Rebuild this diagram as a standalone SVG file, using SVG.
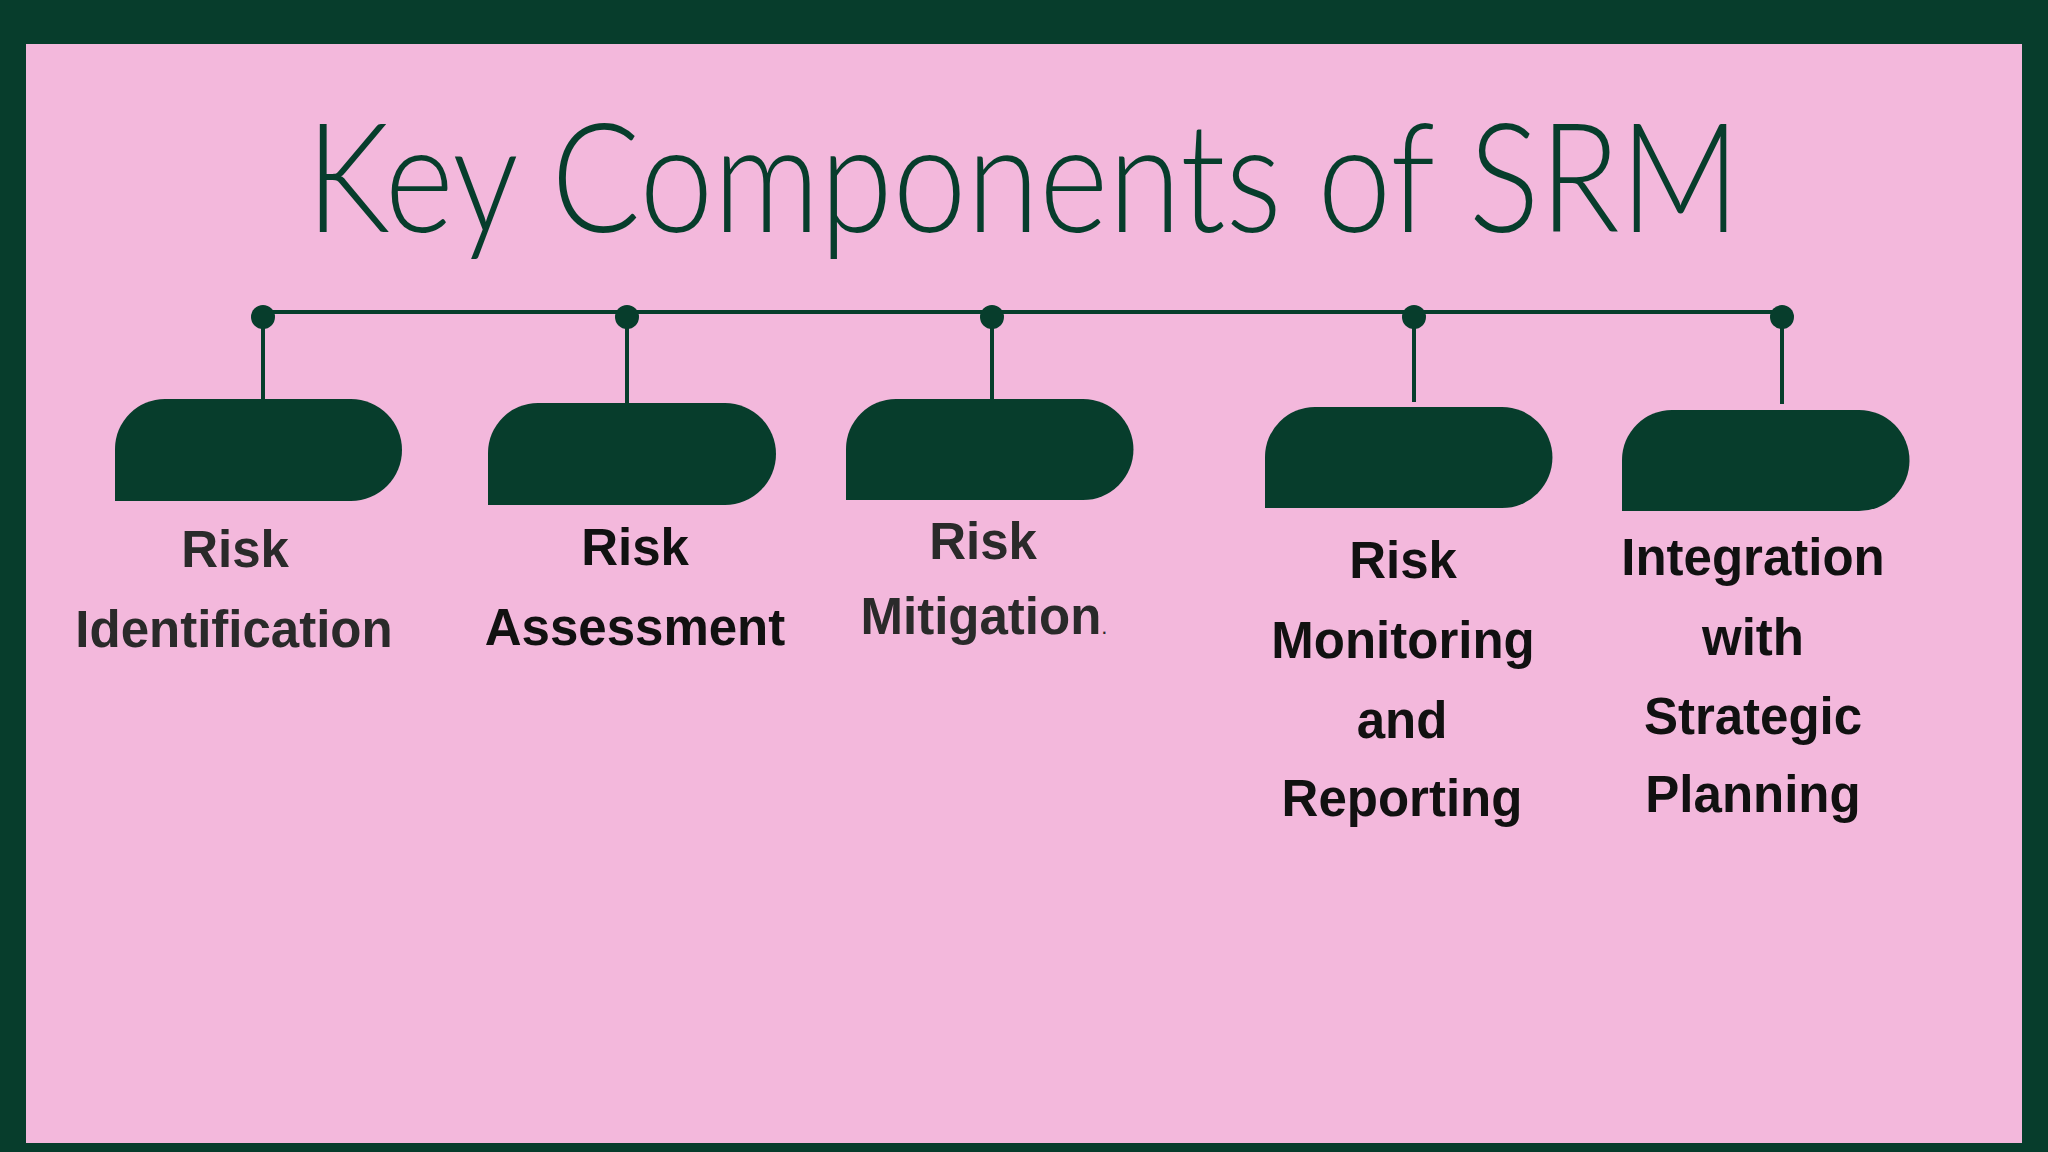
<svg xmlns="http://www.w3.org/2000/svg" width="2048" height="1152" viewBox="0 0 2048 1152">
<style>
.frame{fill:#073d2c}
.bg{fill:#f3b8dc}
.title{font-family:Lato,"Open Sans","DejaVu Sans",sans-serif;font-weight:300;font-size:152px;fill:#073d2c}
.pill{fill:#073d2c}
.lbl{font-family:"Liberation Sans",Arial,sans-serif;font-weight:bold;font-size:51px;text-anchor:middle;fill:#111}
.lbl.gray{fill:#2a2a2a}
.conn line{stroke:#073d2c;stroke-width:4}
.conn circle{fill:#073d2c}
</style>
<rect class="frame" x="0" y="0" width="2048" height="1152"/>
<rect class="bg" x="26" y="44" width="1996" height="1099"/>
<text class="title" x="306" y="232" textLength="1434" lengthAdjust="spacingAndGlyphs">Key Components of SRM</text>
<g id="connectors" class="conn">
<line x1="263" y1="312" x2="1782" y2="312"/>
<line x1="263" y1="317" x2="263" y2="400"/>
<line x1="627" y1="317" x2="627" y2="404"/>
<line x1="992" y1="317" x2="992" y2="400"/>
<line x1="1414" y1="317" x2="1414" y2="402"/>
<line x1="1782" y1="317" x2="1782" y2="404"/>
<circle cx="263" cy="317" r="12"/>
<circle cx="627" cy="317" r="12"/>
<circle cx="992" cy="317" r="12"/>
<circle cx="1414" cy="317" r="12"/>
<circle cx="1782" cy="317" r="12"/>
</g>
<g id="node-identification">
<path class="pill" d="M115,501 V449 A50,50 0 0 1 165,399 H351 A51,51 0 0 1 351,501 Z"/>
<text class="lbl gray" x="235" y="567">Risk</text>
<text class="lbl gray" x="234" y="647">Identification</text>
</g>
<g id="node-assessment">
<path class="pill" d="M488,505 V453 A50,50 0 0 1 538,403 H725 A51,51 0 0 1 725,505 Z"/>
<text class="lbl" x="635" y="565">Risk</text>
<text class="lbl" x="635" y="645">Assessment</text>
</g>
<g id="node-mitigation">
<path class="pill" d="M846,500 V449 A50,50 0 0 1 896,399 H1083 A50.5,50.5 0 0 1 1083,500 Z"/>
<text class="lbl gray" x="983" y="559">Risk</text>
<text class="lbl gray" x="984" y="634">Mitigation<tspan font-size="22" font-weight="normal">.</tspan></text>
</g>
<g id="node-monitoring">
<path class="pill" d="M1265,508 V457 A50,50 0 0 1 1315,407 H1502 A50.5,50.5 0 0 1 1502,508 Z"/>
<text class="lbl" x="1403" y="578">Risk</text>
<text class="lbl" x="1403" y="658">Monitoring</text>
<text class="lbl" x="1402" y="738">and</text>
<text class="lbl" x="1402" y="816">Reporting</text>
</g>
<g id="node-integration">
<path class="pill" d="M1622,511 V460 A50,50 0 0 1 1672,410 H1859 A50.5,50.5 0 0 1 1859,511 Z"/>
<text class="lbl" x="1753" y="575">Integration</text>
<text class="lbl" x="1753" y="655">with</text>
<text class="lbl" x="1753" y="734">Strategic</text>
<text class="lbl" x="1753" y="812">Planning</text>
</g>
</svg>
